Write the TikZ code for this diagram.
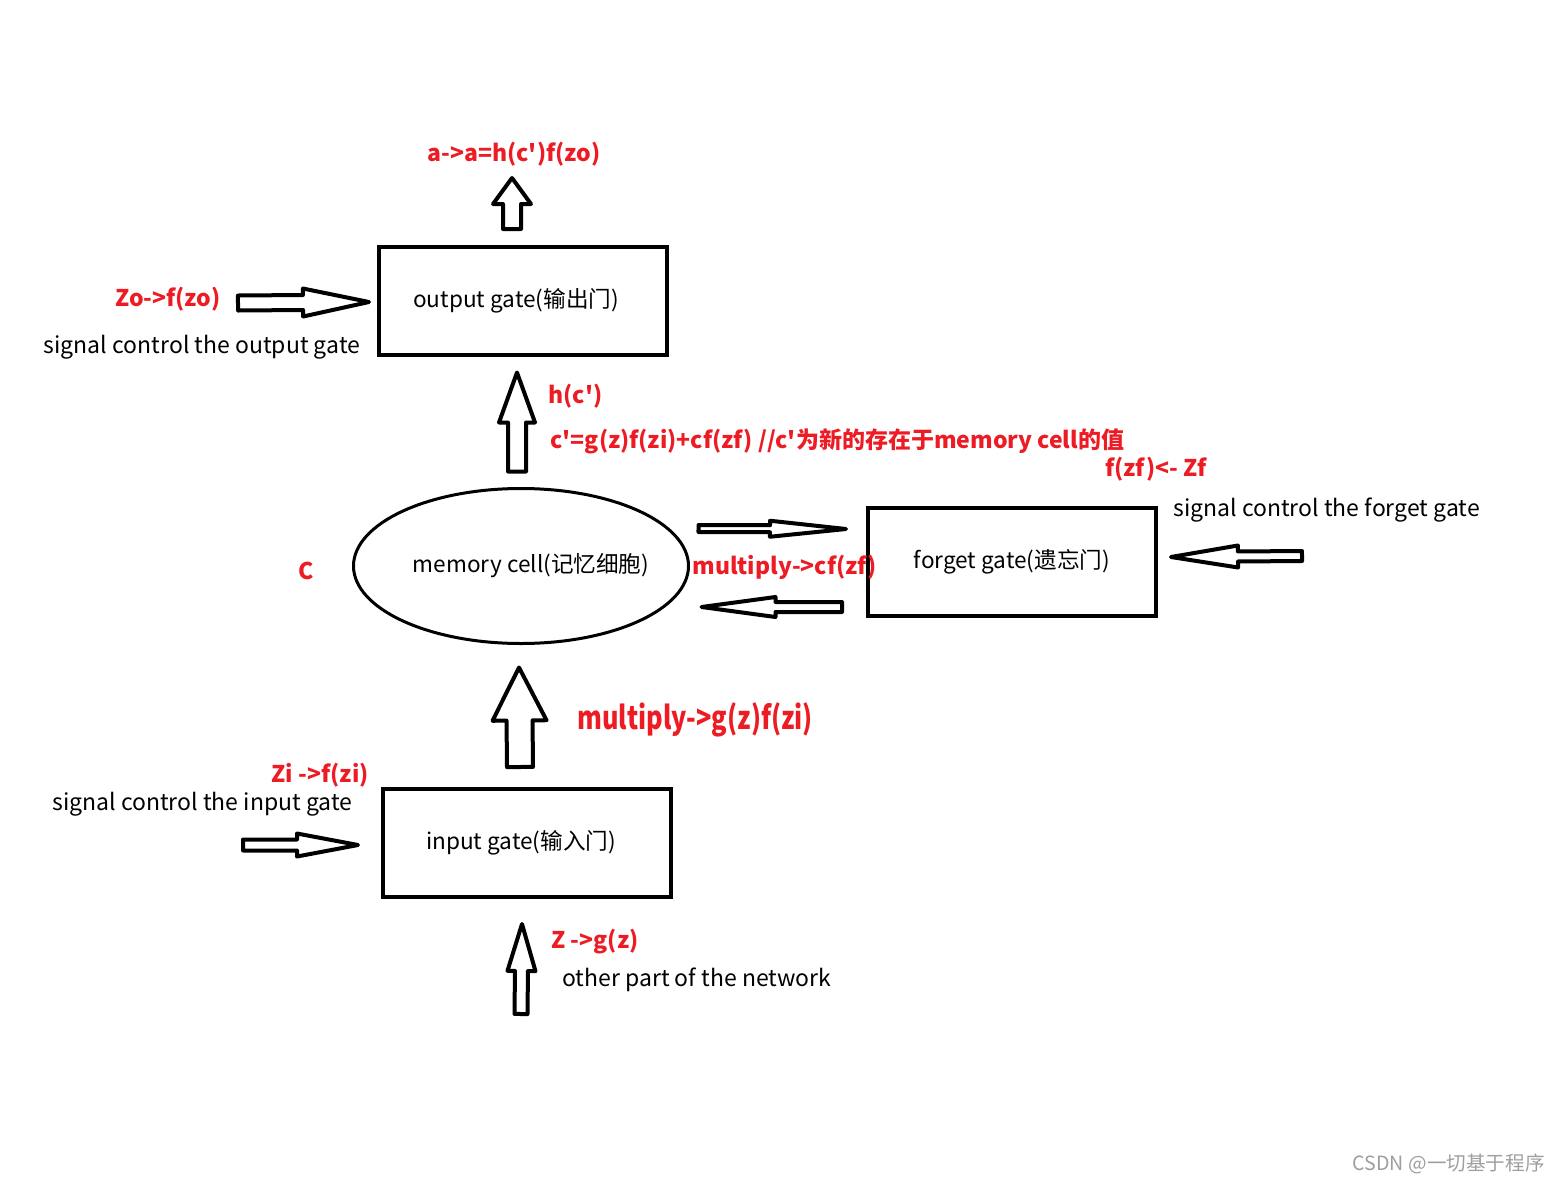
\documentclass[tikz,border=0pt]{standalone}
\usepackage{fontspec}
\setmainfont{Noto Sans CJK SC}
\usetikzlibrary{calc,shapes.geometric}
\definecolor{paintred}{RGB}{237,28,36}
\newcommand{\apos}{\textquotesingle}
% hollow block arrow: tail, tip, head length, half head width, half shaft width
\newcommand{\fatarrow}[5]{%
    \coordinate (fa-h) at ($(#2)!#3!(#1)$);
    \draw[fat] ($(#1)!#5!90:(#2)$) -- ($(fa-h)!#5!90:(#2)$) -- ($(fa-h)!#4!90:(#2)$) -- (#2)
        -- ($(fa-h)!#4!-90:(#2)$) -- ($(fa-h)!#5!-90:(#2)$) -- ($(#1)!#5!-90:(#2)$) -- cycle;
}

\begin{document}
\begin{tikzpicture}[x=0.5pt, y=-0.5pt,
        gate/.style={draw, line width=2pt, minimum width=144pt, minimum height=54pt, inner sep=0pt, font=\fontsize{11.3}{13}\selectfont},
        cellshape/.style={draw, ellipse, line width=1.5pt, minimum width=167.5pt, minimum height=77.5pt, inner xsep=-10pt, inner ysep=0pt, font=\fontsize{11.3}{13}\selectfont},
        txt/.style={inner sep=0pt, font=\fontsize{11.5}{13}\selectfont},
        redtag/.style={inner sep=0pt, text=paintred, font=\fontsize{11.5}{13}\selectfont\bfseries},
        fat/.style={line width=2pt, line join=round},
    ]
    \useasboundingbox (0,0) rectangle (1560,1184);

    % Gates and the memory cell
    \node[gate] (og) at (523,301) {output gate(输出门)\kern7pt};
    \node[cellshape] (cell) at (521,566) {\hspace{10pt}memory cell(记忆细胞)};
    \node[gate] (fg) at (1012,562) {forget gate(遗忘门)};
    \node[gate] (ig) at (527,843) {input gate(输入门)\kern6pt};

    % Output gate
    \node[redtag] (out) at (514,154) {a->a=h(c\apos{})f(zo)};
    \coordinate (o-s) at ($(og.north)+(-11,-16)$);
    \coordinate (o-e) at ($(og.north)+(-11,-67)$);
    \fatarrow{o-s}{o-e}{13pt}{9.5pt}{4.5pt}
    \node[redtag] (zo) at (168,299) {Zo->f(zo)};
    \node[txt] (zo-txt) at (202,347) {signal control the output gate};
    \coordinate (zo-s) at ($(og.west)+(-139,2)$);
    \coordinate (zo-e) at ($(og.west)+(-8,1)$);
    \fatarrow{zo-s}{zo-e}{33pt}{7pt}{3.75pt}

    % Cell to output gate
    \coordinate (c-s) at ($(cell.north)+(-4,-15.5)$);
    \coordinate (c-e) at ($(og.south)+(-6,15.5)$);
    \fatarrow{c-s}{c-e}{25pt}{9pt}{4.5pt}
    \node[redtag, anchor=west] (hc) at (548,396) {h(c\apos{})};
    \node[redtag, anchor=west] (cnew) at (550,441) {c\apos{}=g(z)f(zi)+cf(zf)\ //c\apos{}为新的存在于memory cell的值};
    \node[redtag] (cc) at (306,571) {C};

    % Forget gate
    \coordinate (cf-s) at ($(cell.east)+(8.5,-37.5)$);
    \coordinate (cf-e) at ($(fg.west)+(-20,-33)$);
    \fatarrow{cf-s}{cf-e}{38pt}{4pt}{1.75pt}
    \coordinate (fc-s) at ($(fg.west)+(-24,45)$);
    \coordinate (fc-e) at ($(cell.east)+(11.5,41)$);
    \fatarrow{fc-s}{fc-e}{37pt}{5pt}{2.5pt}
    \node[redtag, anchor=west] (mcf) at (692,567) {multiply->cf(zf)};
    \node[redtag, anchor=west] (zf) at (1105,469) {f(zf)<- Zf};
    \node[txt, anchor=west] (zf-txt) at (1173,510) {signal control the forget gate};
    \coordinate (zf-s) at ($(fg.east)+(144,-6)$);
    \coordinate (zf-e) at ($(fg.east)+(13,-5)$);
    \fatarrow{zf-s}{zf-e}{33.5pt}{5.5pt}{2.5pt}

    % Input gate
    \coordinate (i-s) at ($(ig.north)+(-7,-20)$);
    \coordinate (i-e) at ($(cell.south)+(-2,22.5)$);
    \fatarrow{i-s}{i-e}{26.5pt}{13.5pt}{6.5pt}
    \node[redtag, anchor=west, xscale=0.79, transform shape, font=\fontsize{16}{18}\selectfont\bfseries] (mgf) at (577,720) {multiply->g(z)f(zi)};
    \node[redtag, anchor=east] (zi) at (369,775) {Zi ->f(zi)};
    \node[txt, anchor=west] (zi-txt) at (52,804) {signal control the input gate};
    \coordinate (zi-s) at ($(ig.west)+(-138,2)$);
    \coordinate (zi-e) at ($(ig.west)+(-23,2)$);
    \fatarrow{zi-s}{zi-e}{30.5pt}{5.75pt}{2.75pt}
    \coordinate (z-s) at ($(ig.south)+(-6,115)$);
    \coordinate (z-e) at ($(ig.south)+(-5,25)$);
    \fatarrow{z-s}{z-e}{23.5pt}{7pt}{3.25pt}
    \node[redtag, anchor=west] (zg) at (551,942) {Z ->g(z)};
    \node[txt, anchor=west] (net) at (562,980) {other part of the network};

    % Watermark
    \node[txt, anchor=east, text=black!38, font=\fontsize{9.8}{11}\selectfont] (wm) at (1545,1164) {CSDN @一切基于程序};
\end{tikzpicture}
\end{document}
